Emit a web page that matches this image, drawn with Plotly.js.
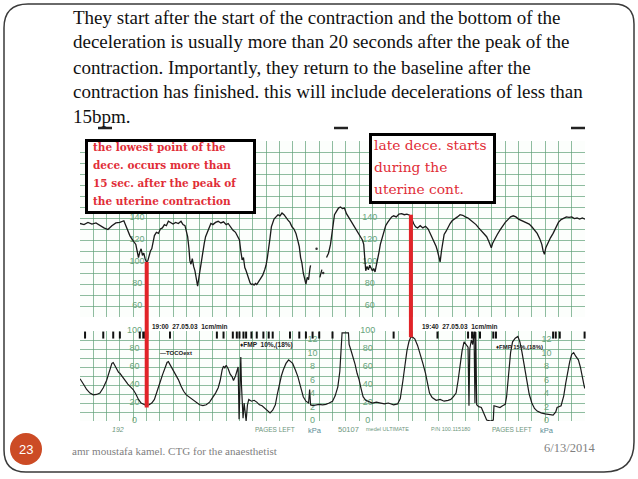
<!DOCTYPE html>
<html><head><meta charset="utf-8">
<script src="https://cdn.plot.ly/plotly-3.0.1.min.js"></script>
<style>html,body{margin:0;padding:0;background:#fff;}#chart{width:638px;height:479px;}</style>
</head><body><div id="chart"></div>
<script>
// ---------- DATA (time in minutes, FHR in bpm, UC in mmHg) ----------
var fhrSeg1 = [[0,135],[0.3,134],[0.6,136],[0.9,134.5],[1.2,135.5],[1.5,133],[1.8,131],[2.1,129.5],[2.4,133],[2.7,135.5],[3.0,136],[3.3,137.5],[3.45,133],[3.6,128],[3.75,124],[3.9,121],[4.05,119],[4.2,116],[4.3,110],[4.4,104],[4.5,109],[4.6,112],[4.7,106],[4.8,108],[4.9,103],[5.0,100],[5.1,101],[5.2,106],[5.3,110],[5.4,112],[5.5,119],[5.6,124],[5.75,127],[5.9,126],[6.05,130],[6.2,131],[6.35,134],[6.5,133],[6.65,137],[6.8,136],[7.0,134.5],[7.2,136],[7.4,135],[7.6,137],[7.75,134],[7.9,133],[8.0,128],[8.1,123],[8.2,112],[8.27,101],[8.35,98],[8.45,103],[8.55,96],[8.65,92],[8.75,85],[8.85,78],[8.95,86],[9.05,95],[9.15,100],[9.25,110],[9.35,117],[9.45,123],[9.55,126],[9.7,131],[9.85,135],[10.0,134],[10.2,136],[10.4,137],[10.6,135.5],[10.8,136.5],[11.0,134],[11.15,135],[11.3,132],[11.5,129],[11.7,127],[11.85,124],[12.0,120],[12.1,110],[12.2,102],[12.3,104],[12.4,95],[12.5,92],[12.6,88],[12.7,84],[12.8,81],[12.9,79.5],[13.0,80],[13.1,79],[13.2,80.5],[13.3,79.5],[13.45,82],[13.6,85],[13.75,88],[13.9,93],[14.0,97],[14.1,104],[14.2,111],[14.3,122],[14.4,132],[14.5,135],[14.6,139],[14.75,141],[14.9,143],[15.05,142],[15.2,144.5],[15.35,143],[15.5,141],[15.65,138],[15.8,136],[15.95,132],[16.1,130],[16.25,126],[16.4,119],[16.5,114],[16.6,104],[16.7,99],[16.8,90],[16.9,84],[17.0,80],[17.1,86],[17.2,84],[17.3,94],[17.35,97]];
var fhrSeg2 = [[18.05,86],[18.2,93]];
var fhrSeg3 = [[18.55,104],[18.7,108],[18.85,116],[18.95,128],[19.05,134],[19.15,143],[19.3,146],[19.45,149],[19.6,150],[19.75,148.5],[19.9,149],[20.05,144],[20.2,141],[20.35,138],[20.5,135],[20.65,132],[20.8,129],[20.95,126],[21.1,124],[21.25,120],[21.35,116],[21.4,106],[21.45,98],[21.5,92],[21.6,96],[21.7,93],[21.8,97],[21.9,95],[22.0,92],[22.1,94],[22.2,91],[22.3,97],[22.4,102],[22.5,109],[22.6,116],[22.7,120],[22.85,127],[23.0,133],[23.15,136],[23.3,139],[23.45,141],[23.6,142],[23.8,141],[24.0,143.5],[24.2,144],[24.4,143],[24.6,143.5],[24.8,142.5],[24.95,140],[25.1,135],[25.25,132],[25.4,131],[25.6,133],[25.8,131],[26.0,132.5],[26.2,130],[26.35,126],[26.5,122],[26.65,119],[26.8,114],[26.9,110],[27.0,104],[27.1,100],[27.2,110],[27.3,118],[27.4,125],[27.55,128],[27.7,132],[27.85,135],[28.0,137.5],[28.2,139],[28.4,141],[28.6,143],[28.8,142.5],[29.0,141],[29.2,140],[29.4,138],[29.6,136],[29.8,134],[30.0,131],[30.2,128],[30.4,126],[30.6,123],[30.75,119],[30.85,115],[30.95,113],[31.05,117],[31.2,121],[31.4,125],[31.6,129],[31.8,133],[32.0,136],[32.2,138.5],[32.4,141],[32.6,142],[32.8,141],[33.0,139],[33.2,138],[33.4,137],[33.6,136],[33.8,134.5],[34.0,132],[34.2,129],[34.4,126],[34.6,121],[34.75,116],[34.85,110],[34.95,107],[35.05,113],[35.2,117],[35.4,122],[35.6,126],[35.8,131],[36.0,136],[36.2,138.5],[36.4,140],[36.6,141],[36.8,140.5],[37.0,141],[37.2,139.5],[37.4,140],[37.6,139],[37.8,140],[38.0,139]];
var fhrDots = [[17.8,112],[18.3,90]];

var ucTrace = [[0,47],[0.15,44],[0.3,40],[0.5,35],[0.75,31],[1.0,29],[1.25,29.5],[1.5,31],[1.75,37],[2.0,45],[2.15,52],[2.3,60],[2.4,64],[2.5,65],[2.6,62],[2.75,57],[2.9,54],[3.0,53],[3.2,49],[3.4,44],[3.6,41],[3.8,38],[4.0,35],[4.2,30],[4.4,24],[4.6,20],[4.8,18],[5.0,17],[5.2,18],[5.4,20],[5.6,24],[5.8,32],[6.0,42],[6.2,51],[6.4,58],[6.55,65],[6.65,66],[6.8,62],[7.0,58],[7.2,52],[7.4,46],[7.6,39],[7.8,33],[8.0,29],[8.2,27],[8.5,24],[8.75,21],[9.0,18],[9.25,17],[9.5,18],[9.75,21],[10.0,26],[10.2,31],[10.4,37],[10.55,45],[10.7,57],[10.8,61],[10.9,59],[11.0,62],[11.15,58],[11.3,52],[11.45,49],[11.55,45],[11.7,50],[11.8,56],[11.9,60],[11.97,2],[12.05,55],[12.1,71],[12.15,40],[12.2,25],[12.27,3],[12.35,20],[12.45,8],[12.5,0],[12.6,18],[12.7,24],[12.9,22],[13.1,23],[13.3,21],[13.5,18],[13.7,17],[13.9,14],[14.1,11],[14.3,9],[14.5,12],[14.7,18],[14.85,30],[15.0,42],[15.15,50],[15.3,57],[15.5,64],[15.7,68],[15.85,66],[16.0,64],[16.2,57],[16.4,49],[16.6,38],[16.8,27],[17.0,22],[17.2,20],[17.28,35],[17.35,18],[17.5,17],[17.75,18],[18.0,18.5],[18.25,18],[18.5,18.5],[18.75,20],[19.0,22],[19.2,28],[19.4,38],[19.55,55],[19.65,75],[19.72,98],[20.2,98],[20.25,85],[20.4,78],[20.55,71],[20.7,63],[20.85,53],[21.0,46],[21.15,36],[21.3,27],[21.5,23],[21.7,21.5],[22.0,20],[22.3,21],[22.6,20],[22.9,19],[23.2,20],[23.6,18],[23.9,19],[24.1,25],[24.3,45],[24.45,62],[24.6,78],[24.75,88],[24.9,93.5],[25.05,93],[25.2,91],[25.4,84],[25.6,75],[25.8,64],[26.0,53],[26.15,40],[26.3,31],[26.5,26],[26.8,23],[27.1,24],[27.4,22],[27.7,23],[27.9,24],[28.1,27],[28.3,31],[28.45,45],[28.6,62],[28.75,78],[28.9,88],[29.05,85],[29.2,82],[29.27,17],[29.33,80],[29.45,90],[29.55,85],[29.65,99],[29.72,20],[29.78,99],[29.85,18],[30.0,16],[30.2,15],[30.4,8],[30.6,1],[30.9,0],[31.1,1],[31.15,17],[31.4,16],[31.6,15],[31.8,17],[32.0,18.5],[32.1,27],[32.25,55],[32.4,76],[32.55,88],[32.75,92],[32.95,94],[33.1,88],[33.25,77],[33.45,60],[33.6,46],[33.8,30],[34.0,20],[34.2,14],[34.4,11],[34.7,9],[35.0,8],[35.3,7.5],[35.6,6.5],[35.8,10],[35.9,15],[36.2,17],[36.4,28],[36.55,42],[36.7,56],[36.85,66],[37.0,74],[37.15,76],[37.3,72],[37.5,68],[37.65,60],[37.8,47],[37.95,38],[38.0,36]];

var eventTimes = [0.38,1.75,2.5,3.0,4.5,4.76,4.9,5.06,6.77,10.3,10.8,11.5,11.8,12.0,12.3,12.5,12.9,13.3,13.8,14.2,14.5,15.8,16.5,17.0,17.5,18.0,19.0,23.6,26.9,29.2,29.5,29.7,30.1,31.1,31.3,35.6,35.8,36.1,37.97];

var fhrLabelsCol1 = [60,80,100,120,140];
var fhrLabelsCol2 = [60,80,100,120,140];
var fhrLabelTimes = [4.3,21.8];
var ucTickLabels = [0,20,40,60,80,100];
var ucLabelTimes = [4.1,21.65];
var kpaTickLabels = [0,2,4,6,8,10,12];
var kpaLabelTimes = [17.5,35.1];
var MMHG_PER_KPA = 7.5;

var lateDeceNadir = {t:5.02, fhr:100, uc:15};
var lateDeceStart = {t:24.9, fhr:143, uc:93};

var paragraph = [
 "They start after the start of the contraction and the bottom of the",
 "deceleration is usually more than 20 seconds after the peak of the",
 "contraction. Importantly, they return to the baseline after the",
 "contraction has finished. this will include decelerations of less than",
 "15bpm."
];
var box1Lines = ["the lowest point of the","dece. occurs more than","15 sec. after the peak of","the uterine contraction"];
var box2Lines = ["late dece. starts","during the","uterine cont."];

// ---------- LAYOUT GEOMETRY ----------
var W = 638, H = 479;
function X(px){ return px / W; }
function Y(py){ return 1 - py / H; }
var xDomain = [X(80), X(585)], xRange = [0, 38];
var fhrDomain = [Y(317), Y(141)], fhrRange = [50, 210];
var ucDomain = [Y(421), Y(331)], ucRange = [0, 100];
function toPaper(v, dom, rng){ return dom[0] + (v - rng[0]) / (rng[1] - rng[0]) * (dom[1] - dom[0]); }

function join(segs){
  var x = [], y = [];
  segs.forEach(function(s, i){
    if (i > 0){ x.push(null); y.push(null); }
    s.forEach(function(p){ x.push(p[0]); y.push(p[1]); });
  });
  return {x:x, y:y};
}
var fhr = join([fhrSeg1, fhrSeg2, fhrSeg3]);
var uc = join([ucTrace]);

var green = 'rgb(105,165,125)';
var labelFont = {family:'Liberation Sans, Arial, sans-serif', size:9, color:green};

function labelTrace(times, valsPerCol, yaxis, textPerCol){
  var x=[], y=[], t=[];
  times.forEach(function(tt, c){
    var vals = valsPerCol[c], texts = textPerCol ? textPerCol[c] : vals;
    vals.forEach(function(v, i){ x.push(tt); y.push(v); t.push(String(texts[i])); });
  });
  return {x:x, y:y, text:t, mode:'text', type:'scatter', xaxis:'x', yaxis:yaxis, textfont:labelFont, hoverinfo:'skip', cliponaxis:false, showlegend:false};
}
var kpaAsMmhg = kpaTickLabels.map(function(k){return k*MMHG_PER_KPA;});

var traces = [
  labelTrace(fhrLabelTimes, [fhrLabelsCol1, fhrLabelsCol2], 'y'),
  labelTrace(ucLabelTimes, [ucTickLabels, ucTickLabels], 'y2'),
  labelTrace(kpaLabelTimes, [kpaAsMmhg, kpaAsMmhg], 'y2', [kpaTickLabels, kpaTickLabels]),
  {x:fhr.x, y:fhr.y, type:'scatter', mode:'lines', xaxis:'x', yaxis:'y', line:{color:'#1a1a1a', width:1.3}, connectgaps:false, showlegend:false},
  {x:fhrDots.map(function(p){return p[0];}), y:fhrDots.map(function(p){return p[1];}), type:'scatter', mode:'markers', xaxis:'x', yaxis:'y', marker:{color:'#333', size:2.5}, showlegend:false},
  {x:uc.x, y:uc.y, type:'scatter', mode:'lines', xaxis:'x', yaxis:'y2', line:{color:'#1a1a1a', width:1.2}, showlegend:false},
  {x:eventTimes, y:eventTimes.map(function(){return 95.5;}), type:'scatter', mode:'markers', xaxis:'x', yaxis:'y2', marker:{symbol:'line-ns', size:5, line:{width:2, color:'#111'}}, showlegend:false, cliponaxis:false}
];

var gridColor = 'rgba(95,160,120,0.7)';
var axisCommon = {showticklabels:false, ticks:'', zeroline:false, showline:false, gridcolor:gridColor, gridwidth:1, fixedrange:true};

var shapes = [];
var fp = 'M '+X(4)+','+Y(28)+' Q '+X(4)+','+Y(4)+' '+X(28)+','+Y(4)+
         ' L '+X(614)+','+Y(4)+' Q '+X(634)+','+Y(4)+' '+X(634)+','+Y(24)+
         ' L '+X(634)+','+Y(442)+' Q '+X(634)+','+Y(472)+' '+X(604)+','+Y(472)+
         ' L '+X(26)+','+Y(472)+' Q '+X(4)+','+Y(472)+' '+X(4)+','+Y(450)+' Z';
shapes.push({type:'path', xref:'paper', yref:'paper', path:fp, line:{color:'#3a3a3a', width:1.5}, layer:'below'});
shapes.push({type:'circle', xref:'paper', yref:'paper', x0:X(10), x1:X(42), y0:Y(465), y1:Y(433), fillcolor:'rgb(204,75,37)', line:{width:0}});
[[98,112],[334,348],[571,585]].forEach(function(d){
  shapes.push({type:'line', xref:'paper', yref:'paper', x0:X(d[0]), x1:X(d[1]), y0:Y(128), y1:Y(128), line:{color:'#222', width:2.5}});
});
[lateDeceNadir, lateDeceStart].forEach(function(p){
  shapes.push({type:'line', xref:'x', yref:'paper', x0:p.t, x1:p.t,
    y0:toPaper(p.fhr, fhrDomain, fhrRange), y1:toPaper(p.uc, ucDomain, ucRange),
    line:{color:'rgb(225,35,40)', width:4}, layer:'above'});
});

var annotations = [];
function txt(text, px, py, o){
  o = o || {};
  annotations.push({text:text, xref:'paper', yref:'paper', x:X(px), y:Y(py), xanchor:o.xa||'left', yanchor:'middle', showarrow:false,
    font:{family:o.family||'Liberation Serif, Times New Roman, serif', size:o.size||12, color:o.color||'#111', weight:o.weight||'normal'}});
}
var paraY = [17, 42, 67, 91.5, 116];
paragraph.forEach(function(l, i){ txt(l, 71, paraY[i], {size:19, color:'#111'}); });

function box(x0, y0, x1, y1){
  annotations.push({text:' ', xref:'paper', yref:'paper', x:X(x0), y:Y(y0), xanchor:'left', yanchor:'top', showarrow:false,
    width:x1-x0-3, height:y1-y0-3, bgcolor:'#fff', bordercolor:'#000', borderwidth:3, borderpad:0});
}
box(85,139,253,211);
box(369,133,493,201);
var b1Y = [147,165,183,200.5];
box1Lines.forEach(function(l, i){ txt(l, 91, b1Y[i], {size:10.5, color:'rgb(225,45,55)', weight:'bold', family:'DejaVu Serif, serif'}); });
var b2Y = [145,167,189];
box2Lines.forEach(function(l, i){ txt(l, 372, b2Y[i], {size:13.8, color:'rgb(225,45,55)', family:'DejaVu Serif, serif'}); });

var sans = 'Liberation Sans, Arial, sans-serif';
txt('19:00  27.05.03  1cm/min', 150, 326, {size:6.5, family:sans, weight:'bold', color:'#222'});
txt('19:40  27.05.03  1cm/min', 420, 326, {size:6.5, family:sans, weight:'bold', color:'#222'});
txt('\u2014TOCOext', 158, 353, {size:6, family:sans, weight:'bold', color:'#222'});
txt('\u2666FMP  10%,(18%)', 238, 345, {size:6.5, family:sans, weight:'bold', color:'#222'});
txt('\u2666FMP 15%,(18%)', 494, 347, {size:6, family:sans, weight:'bold', color:'#222'});
var grey = 'rgb(110,150,125)';
txt('<i>192</i>', 118, 429, {size:7, family:sans, color:grey, xa:'center'});
txt('PAGES LEFT', 275, 429, {size:6.5, family:sans, color:grey, xa:'center'});
txt('kPa', 315, 430, {size:7.5, family:sans, color:'rgb(90,140,150)', xa:'center'});
txt('50107', 348, 429, {size:7.5, family:sans, color:grey, xa:'center'});
txt('medel ULTIMATE', 388, 429, {size:5.5, family:sans, color:grey, xa:'center'});
txt('P/N 100.115180', 450, 429, {size:5.5, family:sans, color:grey, xa:'center'});
txt('PAGES LEFT', 512, 429, {size:6.5, family:sans, color:grey, xa:'center'});
txt('kPa', 547, 430, {size:7.5, family:sans, color:'rgb(90,140,150)', xa:'center'});

txt('23', 26, 449, {size:13, family:sans, color:'#fff', xa:'center'});
txt('amr moustafa kamel. CTG for the anaesthetist', 70, 451, {size:11.1, color:'#7f7f7f'});
txt('6/13/2014', 597, 448, {size:12.5, color:'#7f7f7f', xa:'right'});

var layout = {
  width:W, height:H, margin:{l:0, r:0, t:0, b:0}, paper_bgcolor:'#fff', plot_bgcolor:'#fcfefc', showlegend:false,
  xaxis: Object.assign({}, axisCommon, {domain:xDomain, range:xRange, dtick:1, tick0:0, anchor:'y'}),
  yaxis: Object.assign({}, axisCommon, {domain:fhrDomain, range:fhrRange, dtick:10, tick0:50, anchor:'x'}),
  yaxis2: Object.assign({}, axisCommon, {domain:ucDomain, range:ucRange, dtick:10, tick0:0, anchor:'x'}),
  shapes:shapes, annotations:annotations
};
Plotly.newPlot('chart', traces, layout, {displayModeBar:false, staticPlot:true});
</script></body></html>
